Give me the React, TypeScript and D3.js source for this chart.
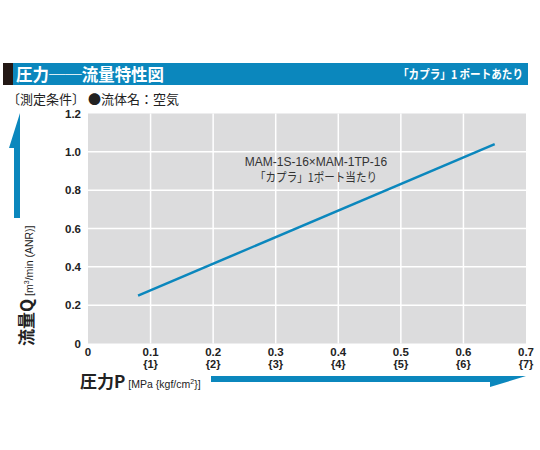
import * as d3 from 'd3';

// pressure-flow characteristic, MAM-1S-16 x MAM-1TP-16
const pressure = [0.08, 0.65];   // MPa
const flow = [0.25, 1.04];       // m3/min (ANR)
const xTicks = [0, 0.1, 0.2, 0.3, 0.4, 0.5, 0.6, 0.7];
const kgfLabels = ['', '{1}', '{2}', '{3}', '{4}', '{5}', '{6}', '{7}'];
const yTicks = [0, 0.2, 0.4, 0.6, 0.8, 1.0, 1.2];

const BLUE = '#0b87bd';
const FONT = '"Liberation Sans", "Noto Sans CJK JP", sans-serif';
const JP = '"Noto Sans CJK JP", "Liberation Sans", sans-serif';

export default function App() {
    const width = 540;
    const height = 450;

    const x = d3.scaleLinear().domain([0, 0.7]).range([88, 526]);
    const y = d3.scaleLinear().domain([0, 1.2]).range([343.5, 113.5]);

    const line = d3.line<number>()
        .x((_, i) => x(pressure[i]))
        .y(d => y(d));

    return (
        <svg width={width} height={height} style={{ position: 'absolute', left: 0, top: 0, background: '#fff' }}>
            {/* header bar */}
            <rect x={3} y={63} width={10} height={22} fill="#231815" />
            <rect x={13} y={63} width={515} height={22} fill={BLUE} />
            <text x={16} y={81} fill="#fff" fontFamily={JP} fontWeight={700} fontSize={17.5}
                textLength={148} lengthAdjust="spacingAndGlyphs">
                圧力──流量特性図
            </text>
            <text x={398} y={79} fill="#fff" fontFamily={JP} fontWeight={700} fontSize={12}
                textLength={125} lengthAdjust="spacingAndGlyphs">
                「カプラ」1 ポートあたり
            </text>
            <text x={7} y={104} fill="#222" fontFamily={JP} fontSize={13}>
                〔測定条件〕 ●流体名：空気
            </text>

            {/* plot background + grid */}
            <rect x={x(0)} y={y(1.2)} width={x(0.7) - x(0)} height={y(0) - y(1.2)} fill="#dcdcdd" />
            {xTicks.slice(1, -1).map(t => (
                <line key={'gx' + t} x1={x(t)} x2={x(t)} y1={y(0)} y2={y(1.2)} stroke="#fff" strokeWidth={1.5} />
            ))}
            {yTicks.slice(1, -1).map(t => (
                <line key={'gy' + t} x1={x(0)} x2={x(0.7)} y1={y(t)} y2={y(t)} stroke="#fff" strokeWidth={1.5} />
            ))}

            {/* y tick labels */}
            {yTicks.map(t => (
                <text key={'yt' + t} x={81} y={y(t) + 4} textAnchor="end" fontFamily={FONT} fontWeight={700}
                    fontSize={11.5} fill="#222">
                    {t === 0 ? '0' : t.toFixed(1)}
                </text>
            ))}

            {/* x tick labels */}
            {xTicks.map((t, i) => (
                <g key={'xt' + t}>
                    <text x={x(t)} y={356} textAnchor="middle" fontFamily={FONT} fontWeight={700}
                        fontSize={11.5} fill="#222">
                        {t === 0 ? '0' : t.toFixed(1)}
                    </text>
                    <text x={x(t)} y={368} textAnchor="middle" fontFamily={FONT} fontWeight={700}
                        fontSize={11} fill="#222">
                        {kgfLabels[i]}
                    </text>
                </g>
            ))}

            {/* series */}
            <path d={line(flow) ?? ''} fill="none" stroke={BLUE} strokeWidth={2.5} />
            <text x={316} y={166} textAnchor="middle" fontFamily={FONT} fontSize={12} fill="#333">
                MAM-1S-16×MAM-1TP-16
            </text>
            <text x={316} y={182} textAnchor="middle" fontFamily={JP} fontSize={12} fill="#333"
                textLength={122} lengthAdjust="spacingAndGlyphs">
                「カプラ」1ポート当たり
            </text>

            {/* y axis title + arrow */}
            <polygon points="20,113 20,218 14,218 14,148 9,148" fill={BLUE} />
            <text transform="translate(33,346) rotate(-90)" fontFamily={JP} fill="#222">
                <tspan fontSize={17} fontWeight={700}>流量Q</tspan>
                <tspan fontSize={10.5} fontFamily={FONT} dx={3}>[m</tspan>
                <tspan fontSize={7} fontFamily={FONT} dy={-4}>3</tspan>
                <tspan fontSize={10.5} fontFamily={FONT} dy={4}>/min (ANR)]</tspan>
            </text>

            {/* x axis title + arrow */}
            <polygon points="211,376 526,376 490,387 490,382 211,382" fill={BLUE} />
            <text x={80} y={388} fontFamily={JP} fill="#222">
                <tspan fontSize={17} fontWeight={700}>圧力P</tspan>
                <tspan fontSize={10.5} fontFamily={FONT} dx={3}>[MPa {'{'}kgf/cm</tspan>
                <tspan fontSize={7} fontFamily={FONT} dy={-4}>2</tspan>
                <tspan fontSize={10.5} fontFamily={FONT} dy={4}>{'}'}]</tspan>
            </text>
        </svg>
    );
}
